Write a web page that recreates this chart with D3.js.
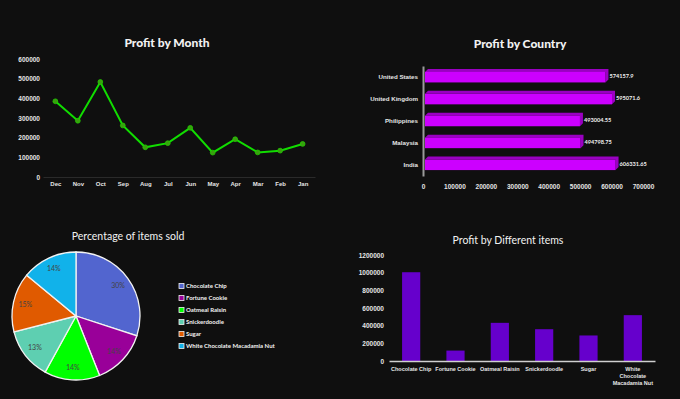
<!DOCTYPE html>
<html>
<head>
<meta charset="utf-8">
<script src="https://cdn.jsdelivr.net/npm/d3@7"></script>
<style>
  html, body { margin: 0; padding: 0; background: #0f0f0f; }
  svg { display: block; font-family: Lato, "DejaVu Sans", sans-serif; }
  .tick text { fill: #e6e6e6; font-weight: bold; }
</style>
</head>
<body>
<svg id="chart" width="680" height="399"></svg>
<script>
// month profit (line)
const months = ['Dec', 'Nov', 'Oct', 'Sep', 'Aug', 'Jul', 'Jun', 'May', 'Apr', 'Mar', 'Feb', 'Jan'];
const monthProfit = [385000, 286000, 483000, 262000, 151000, 172000, 250000, 124000, 192000, 125000, 134000, 168000];

// country profit (horizontal bars)
const countries = ['United States', 'United Kingdom', 'Philippines', 'Malaysia', 'India'];
const countryProfit = [574157.9, 595071.6, 493004.55, 494798.75, 606331.65];

// items
const items = ['Chocolate Chip', 'Fortune Cookie', 'Oatmeal Raisin', 'Snickerdoodle', 'Sugar', 'White Chocolate Macadamia Nut'];
const itemShare = [30, 14, 14, 13, 15, 14];
const itemProfit = [1005000, 118000, 432000, 360000, 289000, 519000];
const itemColors = ['#5265cf', '#990099', '#00ff00', '#5ecfb1', '#e05a00', '#11b2ea'];

const svg = d3.select('#chart');

function title(x, y, txt, bold, size) {
  svg.append('text')
    .attr('x', x).attr('y', y)
    .attr('text-anchor', 'middle')
    .attr('fill', '#f2f2f2')
    .attr('font-size', size)
    .attr('font-weight', bold ? 900 : 'normal')
    .text(txt);
}

// ---------- Profit by Month ----------
title(167, 47, 'Profit by Month', true, 12);

const xM = d3.scalePoint().domain(months).range([43, 315]).padding(0.55);
const yM = d3.scaleLinear().domain([0, 600000]).range([177, 59]);

const gMy = svg.append('g').attr('transform', 'translate(43,0)')
  .call(d3.axisLeft(yM).tickValues(d3.range(0, 600001, 100000)).tickSize(0).tickPadding(3).tickFormat(d3.format('d')));
gMy.select('.domain').remove();
gMy.selectAll('text').attr('font-size', 6.5);

const gMx = svg.append('g').attr('transform', 'translate(0,177)')
  .call(d3.axisBottom(xM).tickSize(0).tickPadding(5).tickSizeOuter(0));
gMx.select('.domain').attr('stroke', '#2a2a2a');
gMx.selectAll('text').attr('font-size', 6);

const line = d3.line().x((d, i) => xM(months[i])).y(d => yM(d));
svg.append('path')
  .datum(monthProfit)
  .attr('d', line)
  .attr('fill', 'none')
  .attr('stroke', '#11dd00')
  .attr('stroke-width', 2);

svg.selectAll('.dot')
  .data(monthProfit)
  .enter()
  .append('circle')
  .attr('cx', (d, i) => xM(months[i]))
  .attr('cy', d => yM(d))
  .attr('r', 2.4)
  .attr('fill', '#3a9f10')
  .attr('stroke', '#22cc00')
  .attr('stroke-width', 0.8);

// ---------- Profit by Country ----------
title(520, 48, 'Profit by Country', true, 12);

const xC = d3.scaleLinear().domain([0, 700000]).range([423, 643]);
const yC = d3.scaleBand().domain(countries).range([66, 176]).paddingInner(0.52).paddingOuter(0.27);

const gCx = svg.append('g').attr('transform', 'translate(0,177)')
  .call(d3.axisBottom(xC).tickValues(d3.range(0, 700001, 100000)).tickSize(0).tickPadding(7).tickFormat(d3.format('d')));
gCx.select('.domain').remove();
gCx.selectAll('text').attr('font-size', 6.5);

const gCy = svg.append('g').attr('transform', 'translate(423,0)')
  .call(d3.axisLeft(yC).tickSize(0).tickPadding(5));
gCy.select('.domain').attr('stroke', '#9a9a9a').attr('stroke-width', 2);
gCy.selectAll('text').attr('font-size', 6.2);

const depth = 3;
const cBars = svg.selectAll('.cbar').data(countryProfit).enter().append('g');
// side face
cBars.append('path')
  .attr('d', (d, i) => {
    const y0 = yC(countries[i]), h = yC.bandwidth(), x1 = xC(d) + 2;
    return `M${425},${y0} L${425 + depth},${y0 - depth} L${x1 + depth},${y0 - depth} L${x1 + depth},${y0 + h - depth} L${x1},${y0 + h} L${x1},${y0} Z`;
  })
  .attr('fill', '#9a00c2');
cBars.append('rect')
  .attr('x', 425)
  .attr('y', (d, i) => yC(countries[i]))
  .attr('width', d => xC(d) + 2 - 425)
  .attr('height', yC.bandwidth())
  .attr('fill', '#cc00ff');
cBars.append('text')
  .attr('x', d => xC(d) + 2 + depth + 1)
  .attr('y', (d, i) => yC(countries[i]) + yC.bandwidth() / 2 - 1)
  .attr('dy', '0.35em')
  .attr('fill', '#f2f2f2')
  .attr('font-size', 5.6)
  .attr('font-weight', 'bold')
  .text(d => d);

// ---------- Percentage of items sold ----------
title(128, 240, 'Percentage of items sold', false, 10.5);

const radius = 64;
const gPie = svg.append('g').attr('transform', 'translate(76,316)');
const pie = d3.pie().value(d => d).sort(null);
const arc = d3.arc().innerRadius(0).outerRadius(radius);
const labelArc = d3.arc().innerRadius(52).outerRadius(52);

gPie.selectAll('path')
  .data(pie(itemShare))
  .enter()
  .append('path')
  .attr('d', arc)
  .attr('fill', (d, i) => itemColors[i])
  .attr('stroke', '#f2f2f2')
  .attr('stroke-width', 1.3);

gPie.selectAll('.plabel')
  .data(pie(itemShare))
  .enter()
  .append('text')
  .attr('transform', d => 'translate(' + labelArc.centroid(d) + ')')
  .attr('text-anchor', 'middle')
  .attr('dy', '0.35em')
  .attr('font-size', 7)
  .attr('fill', '#444')
  .text(d => d.data + '%');

const legend = svg.selectAll('.legend')
  .data(items)
  .enter()
  .append('g')
  .attr('transform', (d, i) => 'translate(179,' + (286 + i * 12) + ')');
legend.append('rect')
  .attr('x', 0).attr('y', -2.5)
  .attr('width', 5).attr('height', 5)
  .attr('fill', (d, i) => itemColors[i])
  .attr('stroke', '#f2f2f2')
  .attr('stroke-width', 0.8);
legend.append('text')
  .attr('x', 7)
  .attr('dy', '0.35em')
  .attr('font-size', 6)
  .attr('font-weight', 'bold')
  .attr('fill', '#f2f2f2')
  .text(d => d);

// ---------- Profit by Different items ----------
title(508, 244, 'Profit by Different items', false, 10.5);

const xI = d3.scaleBand().domain(items).range([389, 655]).paddingInner(0.59).paddingOuter(0.295);
const yI = d3.scaleLinear().domain([0, 1200000]).range([361, 255]);

const gIy = svg.append('g').attr('transform', 'translate(389,0)')
  .call(d3.axisLeft(yI).tickValues(d3.range(0, 1200001, 200000)).tickSize(0).tickPadding(5).tickFormat(d3.format('d')));
gIy.select('.domain').remove();
gIy.selectAll('text').attr('font-size', 6.5);

svg.selectAll('.ibar')
  .data(itemProfit)
  .enter()
  .append('rect')
  .attr('x', (d, i) => xI(items[i]))
  .attr('y', d => yI(d))
  .attr('width', xI.bandwidth())
  .attr('height', d => yI(0) - yI(d))
  .attr('fill', '#6600cc');

const gIx = svg.append('g').attr('transform', 'translate(0,361)')
  .call(d3.axisBottom(xI).tickSize(0).tickPadding(6).tickSizeOuter(0));
gIx.select('.domain').attr('stroke', '#cfcfcf').attr('stroke-width', 1.5);
gIx.selectAll('text').attr('font-size', 5.5);
// wrap the long label into three lines
gIx.selectAll('.tick text').each(function(d) {
  if (d === 'White Chocolate Macadamia Nut') {
    const t = d3.select(this);
    const y = t.attr('y');
    t.text(null);
    ['White', 'Chocolate', 'Macadamia Nut'].forEach((w, k) => {
      t.append('tspan').attr('x', 0).attr('y', y).attr('dy', (0.71 + k * 1.3) + 'em').text(w);
    });
  }
});
</script>
</body>
</html>
